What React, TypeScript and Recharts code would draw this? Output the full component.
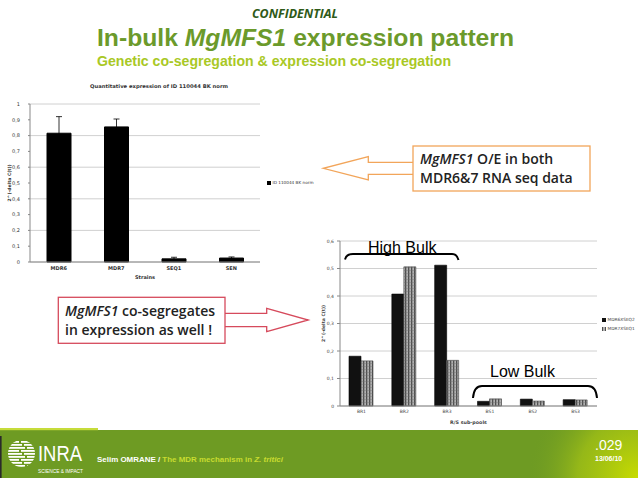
import React from 'react';
import { BarChart, Bar, XAxis, YAxis, CartesianGrid, ErrorBar } from 'recharts';

// ---- data: left chart ----
const strains = ['MDR6', 'MDR7', 'SEQ1', 'SEN'];
const strainExpression = [0.815, 0.855, 0.02, 0.025];
const strainError = [0.105, 0.05, 0.01, 0.007];
const strainTicks = [0, 0.1, 0.2, 0.3, 0.4, 0.5, 0.6, 0.7, 0.8, 0.9, 1];

// ---- data: right chart ----
const pools = ['BR1', 'BR2', 'BR3', 'BS1', 'BS2', 'BS3'];
const mdr6xseq2 = [0.181, 0.407, 0.512, 0.017, 0.025, 0.023];
const mdr7xseq1 = [0.164, 0.506, 0.166, 0.026, 0.018, 0.022];
const poolTicks = [0, 0.1, 0.2, 0.3, 0.4, 0.5, 0.6];

const strainData = strains.map((s, i) => ({ strain: s, value: strainExpression[i], err: strainError[i] }));
const poolData = pools.map((p, i) => ({ pool: p, a: mdr6xseq2[i], b: mdr7xseq1[i] }));

const fmt = (v: number) => (Number.isInteger(v) ? String(v) : v.toFixed(1).replace('.', ','));

const CF = 'DejaVu Sans';
const SF = 'Liberation Sans, Arial, sans-serif';
const CALL = '"Open Sans", sans-serif';

export default function App() {
  return (
    <div style={{ position: 'absolute', left: 0, top: 0, width: 638, height: 478, background: '#fff', overflow: 'hidden' }}>
      {/* left chart */}
      <div style={{ position: 'absolute', left: 0, top: 80 }}>
        <BarChart width={330} height={200} data={strainData} margin={{ top: 24, right: 70, bottom: 0, left: 0 }} barSize={24}>
          <CartesianGrid vertical={false} stroke="#c4c4c4" strokeWidth={0.8} />
          <XAxis
            dataKey="strain"
            height={18}
            interval={0}
            tickLine={false}
            tickSize={0}
            axisLine={{ stroke: '#888' }}
            tickMargin={4}
            tick={{ fontSize: 5, fontWeight: 'bold', fill: '#333', fontFamily: CF }}
            label={{ value: 'Strains', position: 'insideBottom', offset: 1, fontSize: 5, fontWeight: 'bold', fill: '#333', fontFamily: CF }}
          />
          <YAxis
            width={30}
            domain={[0, 1]}
            ticks={strainTicks}
            tickFormatter={fmt}
            tickSize={2}
            tickMargin={8}
            axisLine={{ stroke: '#888' }}
            tickLine={{ stroke: '#888' }}
            tick={{ fontSize: 5, fill: '#333', fontFamily: CF }}
            label={{ value: '2^(-delta C(t))', angle: -90, position: 'insideLeft', offset: 9.5, fontSize: 4.5, fontWeight: 'bold', fill: '#333', fontFamily: CF, style: { textAnchor: 'middle' } }}
          />
          <YAxis yAxisId="r" orientation="right" width={0} tick={false} tickLine={false} axisLine={{ stroke: '#999' }} />
          <Bar dataKey="value" fill="#000" stroke="#000" isAnimationActive={false}>
            <ErrorBar dataKey="err" width={3} stroke="#000" strokeWidth={0.8} direction="y" isAnimationActive={false} />
          </Bar>
        </BarChart>
      </div>
      <div style={{ position: 'absolute', left: 267, top: 180, display: 'flex', alignItems: 'center', fontFamily: CF, fontSize: 4.2, color: '#333', whiteSpace: 'nowrap' }}>
        <span style={{ display: 'inline-block', width: 4, height: 4, background: '#000', marginRight: 1.5 }} />
        ID 110044 BK norm
      </div>

      {/* right chart */}
      <div style={{ position: 'absolute', left: 300, top: 225 }}>
        <BarChart width={338} height={205} data={poolData} margin={{ top: 16, right: 41, bottom: 4, left: 0 }} barSize={12} barGap={0}>
          <defs>
            <pattern id="stripes" width="3" height="3" patternUnits="userSpaceOnUse">
              <rect width="3" height="3" fill="#b0b0b0" />
              <rect x="0" y="0" width="1.3" height="3" fill="#505050" />
              <rect x="0" y="0" width="3" height="0.6" fill="#6a6a6a" opacity="0.6" />
            </pattern>
          </defs>
          <CartesianGrid vertical={false} stroke="#c4c4c4" strokeWidth={0.8} />
          <XAxis
            dataKey="pool"
            height={20}
            interval={0}
            tickLine={false}
            tickSize={0}
            axisLine={{ stroke: '#888' }}
            tickMargin={4}
            tick={{ fontSize: 4.5, fill: '#444', fontFamily: CF }}
            label={{ value: 'R/S sub-pools', position: 'insideBottom', offset: 2, fontSize: 4.8, fontWeight: 'bold', fill: '#444', fontFamily: CF }}
          />
          <YAxis
            width={40}
            domain={[0, 0.6]}
            ticks={poolTicks}
            tickFormatter={fmt}
            tickSize={3}
            tickMargin={3}
            axisLine={{ stroke: '#888' }}
            tickLine={{ stroke: '#888' }}
            tick={{ fontSize: 4.5, fill: '#444', fontFamily: CF }}
            label={{ value: '2^(-delta C(t))', angle: -90, position: 'insideLeft', offset: 23, fontSize: 4.5, fontWeight: 'bold', fill: '#444', fontFamily: CF, style: { textAnchor: 'middle' } }}
          />
          <YAxis yAxisId="r" orientation="right" width={0} tick={false} tickLine={false} axisLine={{ stroke: '#999' }} />
          <Bar dataKey="a" name="MDR6XSEQ2" fill="#111" stroke="#000" strokeWidth={0.6} isAnimationActive={false} />
          <Bar dataKey="b" name="MDR7XSEQ1" fill="url(#stripes)" stroke="#444" strokeWidth={0.6} isAnimationActive={false} />
        </BarChart>
      </div>
      <div style={{ position: 'absolute', left: 602, top: 315, fontFamily: CF, fontSize: 4.3, color: '#444', whiteSpace: 'nowrap', lineHeight: '9px' }}>
        <div style={{ display: 'flex', alignItems: 'center' }}>
          <span style={{ display: 'inline-block', width: 4, height: 4, background: '#111', marginRight: 1.5 }} />
          MDR6XSEQ2
        </div>
        <div style={{ display: 'flex', alignItems: 'center' }}>
          <span style={{ display: 'inline-block', width: 4, height: 4, background: 'repeating-linear-gradient(90deg,#505050 0 1.3px,#b0b0b0 1.3px 3px)', marginRight: 1.5 }} />
          MDR7XSEQ1
        </div>
      </div>

      {/* slide overlay */}
      <svg width={638} height={478} style={{ position: 'absolute', left: 0, top: 0, pointerEvents: 'none' }}>
        <defs>
          <radialGradient id="glow" cx="638" cy="478" r="110" gradientUnits="userSpaceOnUse">
            <stop offset="0" stopColor="#c8dc00" stopOpacity="1" />
            <stop offset="0.55" stopColor="#a6c414" stopOpacity="0.7" />
            <stop offset="1" stopColor="#6e9b23" stopOpacity="0" />
          </radialGradient>
          <clipPath id="logoClip">
            <circle cx="21.5" cy="453.5" r="13.5" />
          </clipPath>
        </defs>

        {/* header */}
        <text x={295} y={18} textAnchor="middle" fontFamily={CALL} fontStyle="italic" fontWeight="bold" fontSize={12.5} fill="#2e5a18" textLength={86} lengthAdjust="spacingAndGlyphs">CONFIDENTIAL</text>
        <text x={97} y={46} fontFamily={SF} fontWeight="bold" fontSize={24.7} fill="#6b9a2b">
          In-bulk <tspan fontStyle="italic">MgMFS1</tspan> expression pattern
        </text>
        <text x={97} y={66} fontFamily={SF} fontWeight="bold" fontSize={14.1} fill="#a9c825">Genetic co-segregation &amp; expression co-segregation</text>

        {/* left chart title */}
        <text x={159} y={88} textAnchor="middle" fontFamily={CF} fontWeight="bold" fontSize={5} fill="#333" textLength={138} lengthAdjust="spacingAndGlyphs">Quantitative expression of ID 110044 BK norm</text>

        {/* orange callout */}
        <polyline points="413,162.3 368.3,162.3 368.3,156.7 323.3,168.3 368.3,180 368.3,174.3 413,174.3" fill="#fff" stroke="#f2a55a" strokeWidth={1.3} />
        <rect x={413} y={146} width={177} height={45} fill="#fff" stroke="#f2a55a" strokeWidth={1.3} />
        <text x={420} y={164} fontFamily={CALL} fontWeight={600} fontSize={14} fill="#222">
          <tspan fontStyle="italic">MgMFS1</tspan> O/E in both
        </text>
        <text x={420} y={183.3} fontFamily={CALL} fontWeight={600} fontSize={14} fill="#222">MDR6&amp;7 RNA seq data</text>

        {/* red callout */}
        <polyline points="225,313.3 266.7,313.3 266.7,308.3 308.3,320 266.7,331.7 266.7,326.7 225,326.7" fill="#fff" stroke="#d64a5c" strokeWidth={1.3} />
        <rect x={58.3} y={297.3} width={166.7} height={46} fill="#fff" stroke="#d64a5c" strokeWidth={1.3} />
        <text x={65} y={316} fontFamily={CALL} fontWeight={600} fontSize={14} fill="#222">
          <tspan fontStyle="italic">MgMFS1</tspan> co-segregates
        </text>
        <text x={65} y={335} fontFamily={CALL} fontWeight={600} fontSize={14} fill="#222">in expression as well !</text>

        {/* braces and bulk labels */}
        <path d="M 345 259.5 Q 346 254 353 254 L 452 254 Q 457 254 458.5 260" fill="none" stroke="#000" strokeWidth={2} />
        <text x={368} y={252.5} fontFamily={SF} fontSize={16} fill="#000">High Bulk</text>
        <path d="M 473 398 Q 474 386 482 386 L 588 386 Q 596 386 597 398" fill="none" stroke="#000" strokeWidth={2} />
        <text x={490} y={376.5} fontFamily={SF} fontSize={16} fill="#000">Low Bulk</text>

        {/* footer */}
        <rect x={0} y={430} width={638} height={48} fill="#6e9b23" />
        <rect x={500} y={430} width={138} height={48} fill="url(#glow)" />
        <rect x={0} y={428} width={98} height={2.2} fill="#c6dc3a" />
        <rect x={0} y={436} width={1.6} height={42} fill="#2a2a2a" />
        <g clipPath="url(#logoClip)" fill="#fff">
          {[441, 444, 447, 450, 453, 456, 459, 462, 465].map((y, i) => (
            <g key={y}>
              <rect x={8} y={y} width={11 + (i % 3) * 3} height={1.8} />
              <rect x={21 + (i % 3) * 3} y={y} width={20} height={1.8} />
            </g>
          ))}
        </g>
        <text x={38} y={460.5} fontFamily={SF} fontSize={22} fill="#fff" textLength={44} lengthAdjust="spacingAndGlyphs">INRA</text>
        <text x={38} y={472.5} fontFamily={SF} fontSize={5.5} fill="#fff" textLength={45} lengthAdjust="spacingAndGlyphs">SCIENCE &amp; IMPACT</text>
        <text x={97} y={461.5} fontFamily={SF} fontWeight="bold" fontSize={7.5} fill="#fff" textLength={186} lengthAdjust="spacingAndGlyphs">
          Selim OMRANE / <tspan fill="#c8dc30">The MDR mechanism in </tspan><tspan fill="#c8dc30" fontStyle="italic">Z. tritici</tspan>
        </text>
        <text x={595} y={450} fontFamily={SF} fontSize={14} fill="#fff">.029</text>
        <text x={595} y={461} fontFamily={SF} fontWeight="bold" fontSize={7} fill="#fff">13/06/10</text>
      </svg>
    </div>
  );
}
